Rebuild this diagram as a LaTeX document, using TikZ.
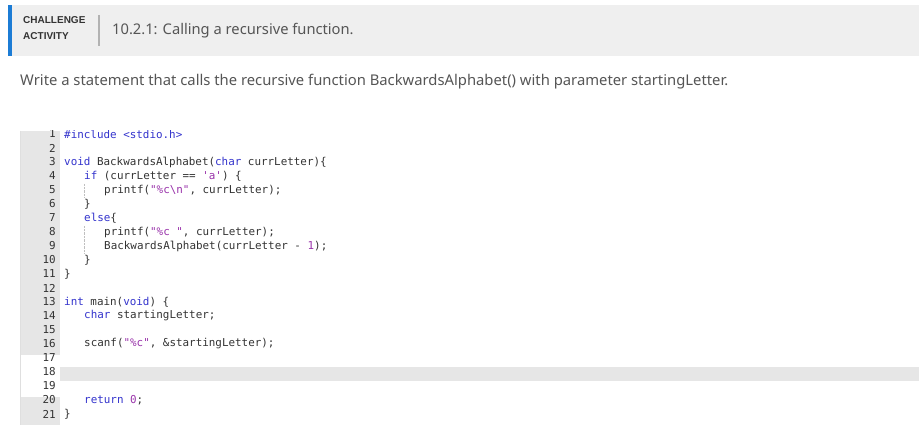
\documentclass[tikz,border=0pt]{standalone}
\usepackage{fontspec}
\setmainfont{Noto Sans}
\setmonofont{DejaVu Sans Mono}
\newfontfamily\hdrfont{Liberation Sans}
\definecolor{hdr}{HTML}{EFEFEF}
\definecolor{blu}{HTML}{1C7CD5}
\definecolor{gut}{HTML}{E6E6E6}
\definecolor{txt}{HTML}{555555}
\definecolor{code}{HTML}{333333}
\definecolor{kw}{HTML}{3333CC}
\definecolor{st}{HTML}{9933AA}
\newcommand{\K}[1]{\textcolor{kw}{#1}}
\newcommand{\Sq}[1]{\textcolor{st}{#1}}
\newcommand{\dq}{\textquotedbl}
\begin{document}
\begin{tikzpicture}[x=1pt,y=-1pt,
  cl/.style={anchor=west,inner sep=0pt,font=\fontsize{10.9}{11}\selectfont\ttfamily,text=code},
  ln/.style={anchor=east,inner sep=0pt,font=\fontsize{10.9}{11}\selectfont\ttfamily,text=code}]
\useasboundingbox (0,0) rectangle (919,425);
\fill[hdr] (8,5) rectangle (919,56);
\fill[blu] (8,5) rectangle (12,56);
\draw[gray!60,line width=1.2pt] (99,15) -- (99,46);
\node[anchor=west,inner sep=0pt,font=\fontsize{10}{16}\selectfont\hdrfont\bfseries,text=black!80,align=left] (ca) at (23,28) {CHALLENGE\\ACTIVITY};
\node[anchor=west,inner sep=0pt,font=\fontsize{14.7}{15}\selectfont,text=txt] (ti) at (112,31) {10.2.1: Calling a recursive function.};
\node[anchor=west,inner sep=0pt,font=\fontsize{14.8}{15}\selectfont,text=txt] (de) at (20,82) {Write a statement that calls the recursive function BackwardsAlphabet() with parameter startingLetter.};
\begin{scope}
\clip (0,131) rectangle (919,425);
\fill[gut] (20,131) rectangle (60,355);
\fill[gut] (20,397) rectangle (60,425);
\fill[gut] (60,367) rectangle (919,381);
\draw[gray!25] (20,131) -- (20,425);
\foreach \n in {1,...,21} {\node[ln] (n\n) at (56,{134+14*(\n-1)}) {\n};}
\draw[gray!50,densely dotted] (84,184) -- (84,197);
\draw[gray!50,densely dotted] (84,226) -- (84,253);
\node[cl] (c1) at (64,134) {\K{\#include <stdio.h>}};
\node[cl] (c3) at (64,162) {\K{void} BackwardsAlphabet(\K{char} currLetter)\{};
\node[cl] (c4) at (84,176) {\K{if} (currLetter == \Sq{\textquotesingle a\textquotesingle}) \{};
\node[cl] (c5) at (104,190) {printf(\Sq{\dq\%c\textbackslash n\dq}, currLetter);};
\node[cl] (c6) at (84,204) {\}};
\node[cl] (c7) at (84,218) {\K{else}\{};
\node[cl] (c8) at (104,232) {printf(\Sq{\dq\%c \dq}, currLetter);};
\node[cl] (c9) at (104,246) {BackwardsAlphabet(currLetter - \Sq{1});};
\node[cl] (c10) at (84,260) {\}};
\node[cl] (c11) at (64,274) {\}};
\node[cl] (c13) at (64,302) {\K{int} main(\K{void}) \{};
\node[cl] (c14) at (84,316) {\K{char} startingLetter;};
\node[cl] (c16) at (84,344) {scanf(\Sq{\dq\%c\dq}, \&startingLetter);};
\node[cl] (c20) at (84,400) {\K{return} \Sq{0};};
\node[cl] (c21) at (64,414) {\}};
\end{scope}
\end{tikzpicture}
\end{document}
